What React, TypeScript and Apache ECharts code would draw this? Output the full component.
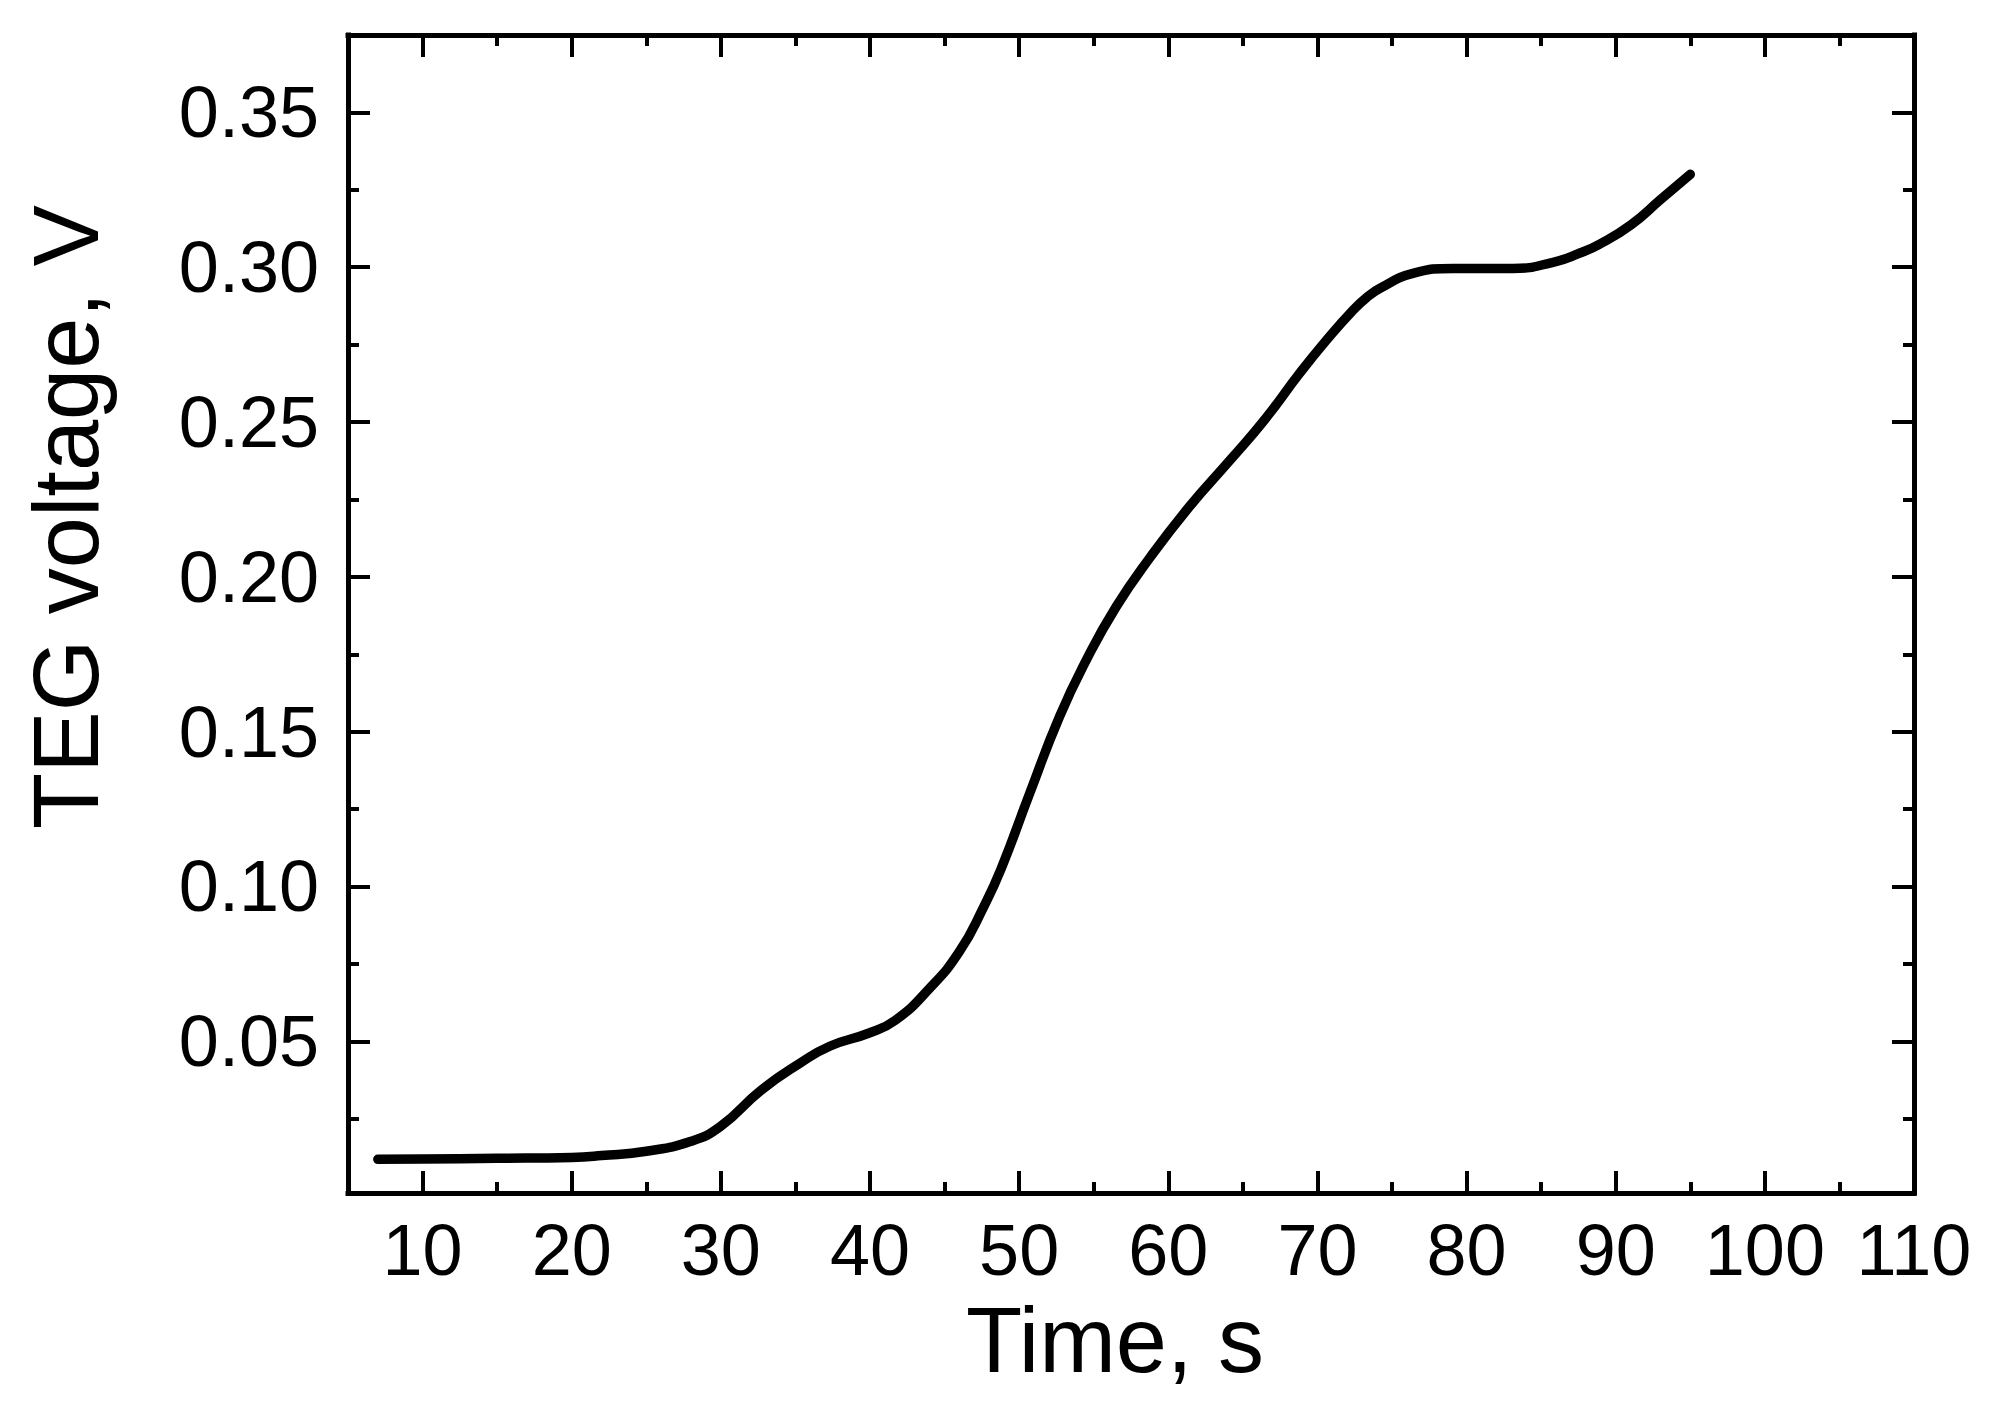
import React, { useEffect, useRef } from "react";
import * as echarts from "echarts";

// Time (s) and TEG voltage (V)
const timeS: number[] = [
  7, 10, 15, 20, 22, 25, 28, 30, 32.7, 35.3, 37.3, 39.9, 41.7, 44.0, 46.0, 47.6,
  48.8, 50.7, 52.7, 54.5, 56.5, 58.8, 61.4, 64.2, 66.5, 68.8, 70.6, 72.4, 73.3,
  74.2, 76.4, 79.1, 83.1, 85.8, 87.6, 88.9, 91.0, 93.0, 95,
];
const voltageV: number[] = [
  0.0119, 0.012, 0.0122, 0.0125, 0.0131, 0.0145, 0.0177, 0.0226, 0.0342, 0.0429,
  0.0484, 0.0526, 0.0568, 0.0671, 0.079, 0.0932, 0.1058, 0.13, 0.1548, 0.1731,
  0.1903, 0.2064, 0.2226, 0.238, 0.251, 0.2657, 0.2764, 0.2862, 0.2902, 0.2932,
  0.298, 0.2996, 0.2996, 0.3016, 0.3046, 0.3074, 0.3136, 0.3218, 0.33,
];

const xMajorTicks: number[] = [10, 20, 30, 40, 50, 60, 70, 80, 90, 100, 110];
const xMinorTicks: number[] = [15, 25, 35, 45, 55, 65, 75, 85, 95, 105];
const yMajorTicks: number[] = [0.05, 0.1, 0.15, 0.2, 0.25, 0.3, 0.35];
const yMinorTicks: number[] = [0.025, 0.075, 0.125, 0.175, 0.225, 0.275, 0.325];

const X_MIN = 5;
const X_MAX = 110;
const Y_MIN = 0.001;
const Y_MAX = 0.375;

const xTitle = "Time, s";
const yTitle = "TEG voltage, V";

const FONT = "Liberation Sans, Arial, sans-serif";
const BLACK = "#000";

export default function App() {
  const ref = useRef<HTMLDivElement | null>(null);

  useEffect(() => {
    if (!ref.current) return;
    const chart = echarts.init(ref.current, undefined, { renderer: "svg" });

    const lineW = 5;
    const tickW = 4;
    const majorLen = 22;
    const minorLen = 11;

    const xAxisBase = (position: "bottom" | "top", ticks: number[], len: number, showLine: boolean, showLabel: boolean) => ({
      type: "value",
      position,
      min: X_MIN,
      max: X_MAX,
      axisLine: { show: showLine, onZero: false, lineStyle: { color: BLACK, width: lineW, cap: "square" } },
      axisTick: { show: true, inside: true, length: len, customValues: ticks, lineStyle: { color: BLACK, width: tickW } },
      axisLabel: showLabel
        ? { show: true, customValues: ticks, fontSize: 72, fontFamily: FONT, color: BLACK, margin: 21 }
        : { show: false },
      splitLine: { show: false },
    });

    const yAxisBase = (position: "left" | "right", ticks: number[], len: number, showLine: boolean, showLabel: boolean) => ({
      type: "value",
      position,
      min: Y_MIN,
      max: Y_MAX,
      axisLine: { show: showLine, onZero: false, lineStyle: { color: BLACK, width: lineW, cap: "square" } },
      axisTick: { show: true, inside: true, length: len, customValues: ticks, lineStyle: { color: BLACK, width: tickW } },
      axisLabel: showLabel
        ? {
            show: true,
            customValues: ticks,
            fontSize: 72,
            fontFamily: FONT,
            color: BLACK,
            margin: 29,
            formatter: (v: number) => v.toFixed(2),
          }
        : { show: false },
      splitLine: { show: false },
    });

    chart.setOption({
      animation: false,
      backgroundColor: "#fff",
      grid: { left: 348, right: 81, top: 35, bottom: 212, containLabel: false },
      xAxis: [
        xAxisBase("bottom", xMajorTicks, majorLen, true, true),
        xAxisBase("bottom", xMinorTicks, minorLen, false, false),
        xAxisBase("top", xMajorTicks, majorLen, true, false),
        xAxisBase("top", xMinorTicks, minorLen, false, false),
      ],
      yAxis: [
        yAxisBase("left", yMajorTicks, majorLen, true, true),
        yAxisBase("left", yMinorTicks, minorLen, false, false),
        yAxisBase("right", yMajorTicks, majorLen, true, false),
        yAxisBase("right", yMinorTicks, minorLen, false, false),
      ],
      series: [
        {
          type: "line",
          xAxisIndex: 0,
          yAxisIndex: 0,
          data: timeS.map((t, i) => [t, voltageV[i]]),
          showSymbol: false,
          smooth: 0.5,
          lineStyle: { color: BLACK, width: 9.5, cap: "round", join: "round" },
          itemStyle: { color: BLACK },
          silent: true,
        },
      ],
      graphic: [
        {
          type: "text",
          x: 1115,
          y: 1340,
          style: {
            text: xTitle,
            fontSize: 92,
            fontFamily: FONT,
            fill: BLACK,
            textAlign: "center",
            textVerticalAlign: "middle",
          },
        },
        {
          type: "text",
          x: 66,
          y: 517,
          rotation: Math.PI / 2,
          style: {
            text: yTitle,
            fontSize: 92,
            fontFamily: FONT,
            fill: BLACK,
            textAlign: "center",
            textVerticalAlign: "middle",
          },
        },
      ],
    });

    return () => {
      chart.dispose();
    };
  }, []);

  return (
    <div
      ref={ref}
      style={{ position: "fixed", left: 0, top: 0, width: 1995, height: 1405, background: "#fff" }}
    />
  );
}
